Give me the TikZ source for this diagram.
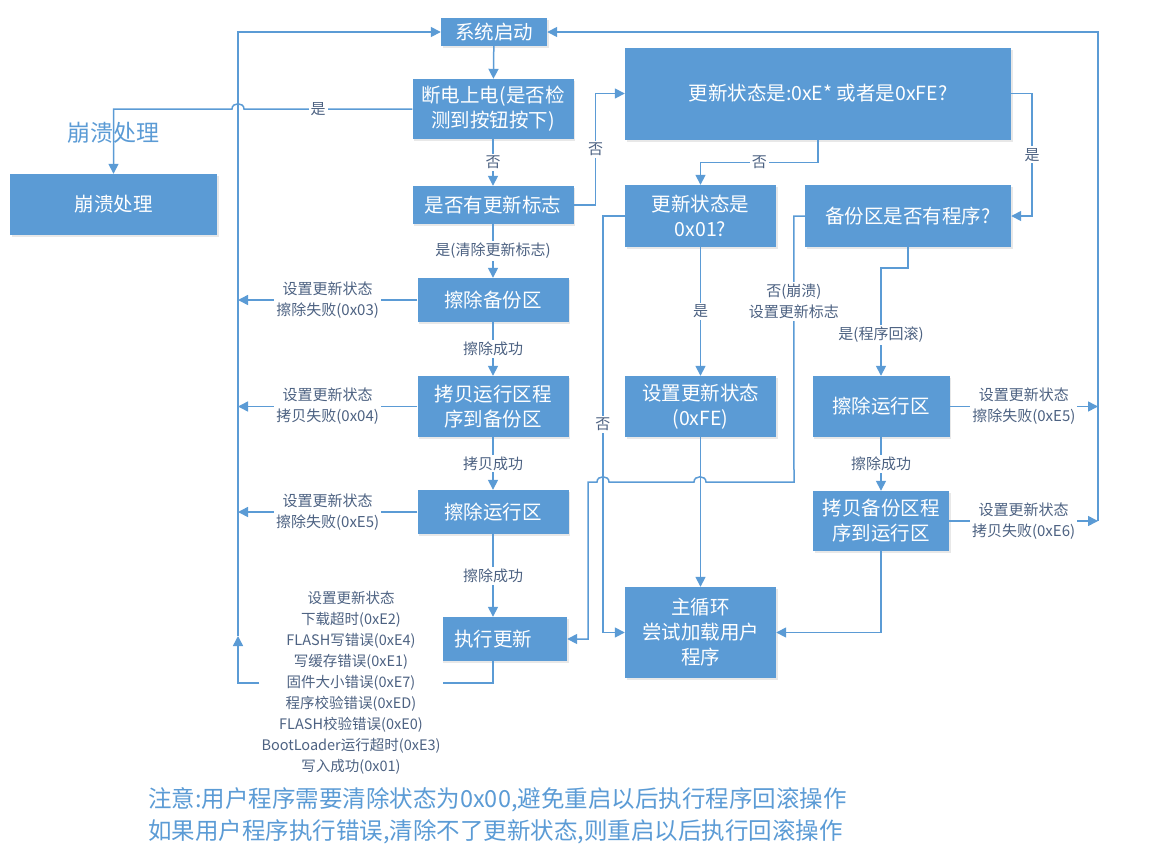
\documentclass[tikz,border=0pt]{standalone}
\usepackage{fontspec}
\setmainfont{Noto Sans CJK SC}
\usetikzlibrary{arrows.meta, shadows}

\definecolor{boxblue}{HTML}{5B9BD5}
\definecolor{lineblue}{HTML}{5B9BD5}
\definecolor{labelgray}{HTML}{4D6282}

\begin{document}
\begin{tikzpicture}[x=1pt, y=-1pt, >={Triangle[length=10pt, width=10pt]},
    box/.style={fill=boxblue, text=white, inner sep=0pt, align=center,
      font=\fontsize{19.5}{25}\selectfont,
      drop shadow={opacity=0.18, shadow xshift=1.5pt, shadow yshift=-2pt}},
    link/.style={draw=lineblue, line width=1.5pt},
    lbl/.style={text=labelgray, font=\fontsize{15}{21}\selectfont, fill=white, inner sep=2pt, align=center},
    note/.style={text=lineblue, font=\fontsize{23.5}{32}\selectfont, anchor=west, inner sep=0pt}]

    \useasboundingbox (0,0) rectangle (1154,860);

    % Left column: boot and update steps
    \node (start) [box, minimum width=106pt, minimum height=28pt] at (494,32) {系统启动};
    \node (power) [box, minimum width=161pt, minimum height=60pt] at (493,109) {断电上电(是否检\\测到按钮按下)};
    \node (flag) [box, minimum width=161pt, minimum height=38pt] at (493,205) {是否有更新标志};
    \node (eraseBak) [box, minimum width=151pt, minimum height=44pt] at (493,300) {擦除备份区};
    \node (copyRun) [box, minimum width=151pt, minimum height=61pt] at (493,406.5) {拷贝运行区程\\序到备份区};
    \node (eraseRun) [box, minimum width=151pt, minimum height=44pt] at (493,512) {擦除运行区};
    \node (exec) [box, minimum width=126pt, minimum height=44pt, text width=100pt, align=left] at (504,639) {执行更新};

    % Crash handling
    \node (crash) [box, minimum width=207pt, minimum height=61pt] at (113.5,204.5) {崩溃处理};
    \node (crashTitle) [text=lineblue, font=\fontsize{23}{23}\selectfont] at (113,133) {崩溃处理};

    % Right part: state checks and rollback
    \node (q1) [box, minimum width=386pt, minimum height=92pt] at (818,93.5) {更新状态是:0xE* 或者是0xFE?};
    \node (q2) [box, minimum width=151pt, minimum height=62pt] at (700.5,216) {更新状态是\\0x01?};
    \node (q3) [box, minimum width=206pt, minimum height=62pt] at (908,216) {备份区是否有程序?};
    \node (setFE) [box, minimum width=151pt, minimum height=61pt] at (700.5,406.5) {设置更新状态\\(0xFE)};
    \node (eraseRun2) [box, minimum width=137pt, minimum height=61pt] at (881,406.5) {擦除运行区};
    \node (copyBak) [box, minimum width=136pt, minimum height=60pt] at (881,521) {拷贝备份区程\\序到运行区};
    \node (main) [box, minimum width=151pt, minimum height=91pt] at (700.5,632.5) {主循环\\尝试加载用户\\程序};

    % Error list of the update step
    \node (errList) [lbl, font=\fontsize{14.5}{21}\selectfont] at (351,683) {设置更新状态\\下载超时(0xE2)\\FLASH写错误(0xE4)\\写缓存错误(0xE1)\\固件大小错误(0xE7)\\程序校验错误(0xED)\\FLASH校验错误(0xE0)\\BootLoader运行超时(0xE3)\\写入成功(0x01)};

    % Return lines to the start
    \coordinate (loopMid) at (238,636);
    \coordinate (rightBot) at (1098,521);

    % Left column connections
    \draw[link, ->] (start) -- (power);
    \draw[link, ->] (power) -- node[lbl] {否} (flag);
    \draw[link, ->] (flag) -- node[lbl] {是(清除更新标志)} (eraseBak);
    \draw[link, ->] (eraseBak) -- node[lbl] {擦除成功} (copyRun);
    \draw[link, ->] (copyRun) -- node[lbl] {拷贝成功} (eraseRun);
    \draw[link, ->] (eraseRun.south) -- node[lbl] {擦除成功} (eraseRun.south |- exec.north);
    \draw[link, ->] (power.west) -- node[lbl, pos=0.56] {是} (244,109)
        .. controls (244,102) and (232,102) .. (232,109) -| (crash.north);

    % Failures back to the start (left)
    \draw[link, ->] (eraseBak.west) -- (eraseBak.west -| loopMid) node[lbl, midway] {设置更新状态\\擦除失败(0x03)};
    \draw[link, ->] (copyRun.west) -- (copyRun.west -| loopMid) node[lbl, midway] {设置更新状态\\拷贝失败(0x04)};
    \draw[link, ->] (eraseRun.west) -- (eraseRun.west -| loopMid) node[lbl, midway] {设置更新状态\\擦除失败(0xE5)};
    \draw[link] (eraseRun.south |- exec.south) |- (errList.east);
    \draw[link, ->] (errList.west) -| (loopMid);
    \draw[link, ->] (loopMid) |- (start.west);

    % State checks
    \draw[link, ->] (flag.east) -- ++(22,0) |- node[lbl, pos=0.25] {否} (q1.west);
    \draw[link, ->] (q1.south) -- ++(0,23) -| node[lbl, pos=0.25] {否} (q2.north);
    \draw[link, ->] (q1.east) -- ++(21,0) |- node[lbl, pos=0.25] {是} (q3.east);
    \draw[link, ->] (q2) -- node[lbl] {是} (setFE);
    \draw[link, ->] (setFE) -- (main);
    \draw[link, ->] (q2.west) -- ++(-22,0) |- node[lbl, pos=0.25] {否} (main.west);
    \draw[link, ->] (q3.west) -- ++(-11,0) -- node[lbl, pos=0.32] {否(崩溃)\\设置更新标志} (794,482)
        -- (706,482) .. controls (706,475) and (694,475) .. (694,482)
        -- (609,482) .. controls (609,475) and (597,475) .. (597,482)
        -- (588,482) |- (exec.east);

    % Rollback
    \draw[link, ->] (q3.south) -- ++(0,21) -| node[lbl, pos=0.81] {是(程序回滚)} (eraseRun2.north);
    \draw[link, ->] (eraseRun2) -- node[lbl] {擦除成功} (copyBak);
    \draw[link, ->] (copyBak.south) |- (main.east);

    % Failures back to the start (right)
    \draw[link, ->] (eraseRun2.east) -- (eraseRun2.east -| rightBot) node[lbl, midway] {设置更新状态\\擦除失败(0xE5)};
    \draw[link, ->] (copyBak.east) -- (copyBak.east -| rightBot) node[lbl, midway] {设置更新状态\\拷贝失败(0xE6)};
    \draw[link, ->] (rightBot) |- (start.east);

    % Notes
    \node (note1) [note] at (148,800) {注意:用户程序需要清除状态为0x00,避免重启以后执行程序回滚操作};
    \node (note2) [note] at (148,832) {如果用户程序执行错误,清除不了更新状态,则重启以后执行回滚操作};
\end{tikzpicture}
\end{document}
